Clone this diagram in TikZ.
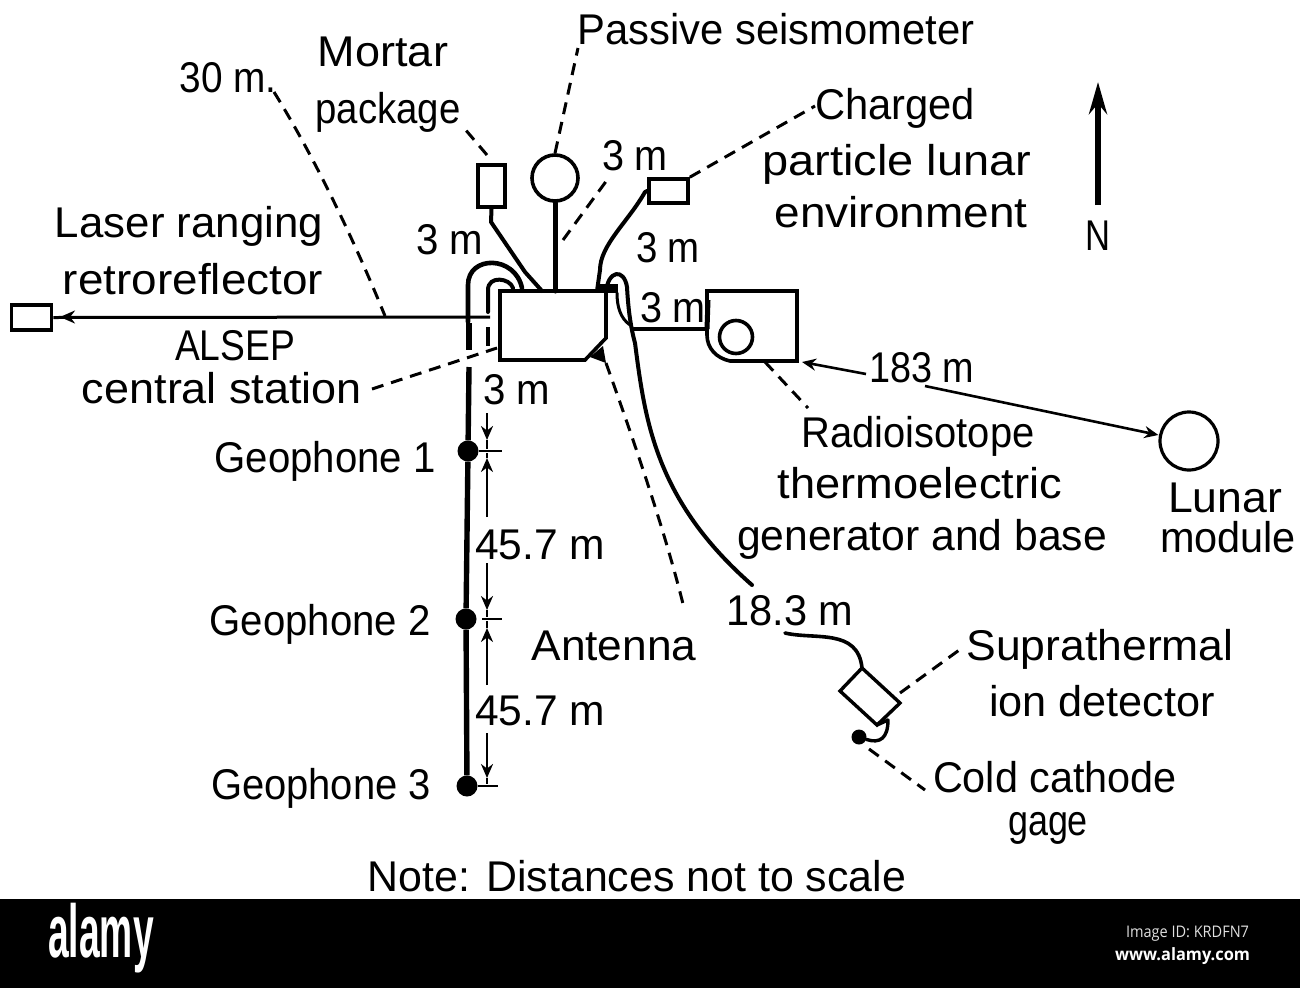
\documentclass[tikz,border=0pt]{standalone}
\usepackage{fontspec}
\usepackage{graphicx}
\setmainfont{Liberation Sans}
\newfontfamily\bandfont{Open Sans}
\usetikzlibrary{arrows.meta}
\newcommand\W[2]{\resizebox{#1pt}{\height}{#2}}
\tikzset{
  lbl/.style={inner sep=0pt,anchor=base,font=\fontsize{43}{46}\selectfont,text=black},
  cable/.style={draw=black,line width=4pt,line cap=round,line join=round},
  thincable/.style={draw=black,line width=3pt,line cap=round,line join=round},
  leader/.style={draw=black,line width=3pt,dash pattern=on 12pt off 8pt},
  dim/.style={draw=black,line width=2.6pt},
  box/.style={draw=black,line width=3.6pt,fill=white},
  dot/.style={circle,fill=black,inner sep=0pt,minimum size=21pt},
  tipd/.style={-{Stealth[length=14pt,width=12pt]}}
}
\begin{document}
\begin{tikzpicture}[x=1pt,y=-1pt]
\useasboundingbox (0,0) rectangle (1300,988);
% black band
\fill[black] (0,899) rectangle (1300,988);
\node[inner sep=0pt,text=white] (brand) at (101,938) {\scalebox{0.62}[1.25]{\fontsize{60}{60}\selectfont\bfseries alamy}};
\node[inner sep=0pt,text=white!88!black,anchor=base] (imgid) at (1187.5,937) {\resizebox{123pt}{\height}{\bandfont\fontsize{16}{20}\selectfont Image ID: KRDFN7}};
\node[inner sep=0pt,text=white,anchor=base] (www) at (1182.5,960) {\resizebox{135pt}{\height}{\bandfont\bfseries\fontsize{17}{22}\selectfont www.alamy.com}};

% equipment
\draw[box] (500,291) -- (606,291) -- (606,338) -- (585,360) -- (500,360) -- cycle;
\coordinate (csN) at (555,291);
\coordinate (csNW) at (542,291);
\coordinate (csNE) at (597,291);
\node[box,rectangle,minimum width=27pt,minimum height=42pt,inner sep=0pt] (mortar) at (491.5,186) {};
\node[box,circle,minimum size=46pt,inner sep=0pt] (seis) at (555,178) {};
\node[box,rectangle,minimum width=39pt,minimum height=24pt,inner sep=0pt] (cpl) at (668.5,191) {};
\draw[box] (707,291) -- (797,291) -- (797,361) -- (730,361) .. controls (716,358) and (707,348) .. (707,335) -- cycle;
\coordinate (rtgN) at (707,329);
\node[box,circle,minimum size=33pt,inner sep=0pt] (rtgc) at (736,337) {};
\node[draw=black,line width=3.8pt,rectangle,minimum width=40pt,minimum height=25pt,inner sep=0pt] (retro) at (31.5,317.5) {};
\node[draw=black,line width=3.2pt,circle,minimum size=58pt,inner sep=0pt] (lm) at (1189,441) {};

% cables to central station
\draw[cable] (mortar.south) -- (491,222) -- (525,272) -- (csNW);
\draw[cable,line width=5pt] (seis.south) -- (csN);
\draw[cable] (cpl.west) -- (645,192) .. controls (628,222) and (600,245) .. (600,270) -- (csNE);
% arches on the west
\coordinate (archA) at (468,322);
\coordinate (archB) at (488,312);
\draw[cable,line width=4.6pt] (archA) -- (468,285) .. controls (468,255) and (515,255) .. (522,288);
\draw[cable] (archB) -- (488,290) .. controls (488,275) and (510,278) .. (513,288);
% east loop and long cable
\coordinate (sideE) at (606,292);
\draw[cable] (sideE) .. controls (608,270) and (624,268) .. (627,287) .. controls (628,305) and (630,325) .. (635,343) .. controls (645,420) and (655,500) .. (752,585);
\draw[thincable] (617,293) .. controls (617,306) and (620,318) .. (630,325);
\fill[black] (596,293) rectangle (618,284);
% to RTG
\draw[cable] (634,329) -- (rtgN);
\draw[cable,line width=5pt,line cap=butt] (708,300) -- (rtgN);
% west line to retroreflector
\coordinate (westend) at (490,317);
\coordinate (rtip) at (60,317);
\draw[thincable,line cap=butt] (westend) -- (retro.east);
\draw[line width=3pt,-{Stealth[length=15pt,width=13pt]}] (75,317) -- (rtip);
% geophone line
\node[dot] (g1) at (468,451) {};
\node[dot] (g2) at (466,619) {};
\node[dot] (g3) at (467,786) {};
\coordinate (gtop) at (469,367);
\coordinate (gtopb) at (469,323);
\coordinate (gtopc) at (469,350);
\draw[cable,line width=5.4pt,line cap=butt] (gtopb) -- (gtopc);
\draw[cable,line width=5.4pt,line cap=butt] (gtop) -- (g1) -- (g2) -- (g3);
\coordinate (d0) at (488,327);
\coordinate (d1) at (488,346);
\draw[draw=black,line width=3.5pt] (d0) -- (d1);
% dimension marks
\coordinate (t1) at (502,451);
\coordinate (t2) at (502,619);
\coordinate (t3) at (498,786);
\draw[dim] (g1) -- (t1);
\draw[dim] (482,619) -- (t2);
\draw[dim] (g3) -- (t3);
\coordinate (a0) at (487,413);
\coordinate (a1) at (487,440);
\coordinate (a2) at (487,517);
\coordinate (a3) at (487,458);
\coordinate (a4) at (487,563);
\coordinate (a5) at (487,610);
\coordinate (a6) at (487,685);
\coordinate (a7) at (487,628);
\coordinate (a8) at (487,733);
\coordinate (a9) at (487,778);
\draw[dim,tipd] (a0) -- (a1);
\draw[dim,tipd] (a2) -- (a3);
\draw[dim,tipd] (a4) -- (a5);
\draw[dim,tipd] (a6) -- (a7);
\draw[dim,tipd] (a8) -- (a9);
\draw[dim] (a1) -- (487,449) (a3) -- (487,453) (a5) -- (487,617) (a7) -- (487,621) (a9) -- (487,784);

% antenna
\coordinate (antA) at (590,357);
\coordinate (antB) at (603,346);
\coordinate (antC) at (606,363);
\fill[black] (antA) -- (antB) -- (antC) -- cycle;

% LM link
\coordinate (rtgE) at (802,362);
\coordinate (l1) at (866,374);
\coordinate (l2) at (925,386);
\draw[dim,tipd] (l1) -- (rtgE);
\draw[dim,tipd] (l2) -- (lm.west |- 0,435);

% suprathermal ion detector
\draw[box,line width=3.4pt] (862,668) coordinate (sidN) -- (900,703) coordinate (sidE) -- (877,725) coordinate (sidS) -- (840,691) -- cycle;
\coordinate (cabEnd) at (785,633);
\draw[cable,line width=3.6pt] (cabEnd) .. controls (815,640) and (858,628) .. (sidN);
\node[circle,fill=black,inner sep=0pt,minimum size=15pt] (ccg) at (859,737) {};
\draw[cable,line width=3.4pt] (sidS) -- (888,720) .. controls (888,738) and (880,744) .. (ccg);

% north arrow
\coordinate (nb) at (1098,205);
\coordinate (nt) at (1098,82);
\draw[line width=5.5pt,-{Stealth[length=32pt,width=18pt]}] (nb) -- (nt);

% labels
\node[lbl] (t30) at (228,92) {\W{97}{30 m.}};
\node[lbl] (tmortar) at (383,66) {\W{130}{Mortar}};
\node[lbl] (tpack) at (388,123) {\W{145}{package}};
\node[lbl] (tpass) at (776,44) {\W{397}{Passive seismometer}};
\node[lbl] (m3a) at (635,170) {\W{66}{3 m}};
\node[lbl] (tchg) at (895,119) {\W{160}{Charged}};
\node[lbl] (tpart) at (897,175) {\W{269}{particle lunar}};
\node[lbl] (tenv) at (901,227) {\W{253}{environment}};
\node[lbl] (tn) at (1098,250) {\W{25}{N}};
\node[lbl] (tlaser) at (189,237) {\W{268}{Laser ranging}};
\node[lbl] (tretro) at (193,294) {\W{260}{retroreflector}};
\node[lbl] (m3b) at (450,254) {\W{67}{3 m}};
\node[lbl] (m3c) at (668,262) {\W{64}{3 m}};
\node[lbl] (m3d) at (673,322) {\W{66}{3 m}};
\node[lbl] (talsep) at (235,360) {\W{120}{ALSEP}};
\node[lbl] (tcentral) at (222,403) {\W{280}{central station}};
\node[lbl] (m3e) at (517,404) {\W{67}{3 m}};
\node[lbl] (tg1) at (325,472) {\W{221}{Geophone 1}};
\node[lbl] (tg2) at (320,635) {\W{221}{Geophone 2}};
\node[lbl] (tg3) at (321,799) {\W{220}{Geophone 3}};
\node[lbl] (m45a) at (540,559) {\W{130}{45.7 m}};
\node[lbl] (m45b) at (540,725) {\W{130}{45.7 m}};
\node[lbl] (tant) at (614,660) {\W{165}{Antenna}};
\node[lbl] (trad) at (918,447) {\W{233}{Radioisotope}};
\node[lbl] (ttherm) at (920,498) {\W{284}{thermoelectric}};
\node[lbl] (tgen) at (922,550) {\W{370}{generator and base}};
\node[lbl] (tlunar) at (1225,512) {\W{114}{Lunar}};
\node[lbl] (tmod) at (1228,552) {\W{136}{module}};
\node[lbl] (m183) at (922,382) {\W{105}{183 m}};
\node[lbl] (m18) at (790,625) {\W{127}{18.3 m}};
\node[lbl] (tsup) at (1100,660) {\W{267}{Suprathermal}};
\node[lbl] (tion) at (1102,716) {\W{226}{ion detector}};
\node[lbl] (tcold) at (1055,792) {\W{244}{Cold cathode}};
\node[lbl] (tgage) at (1048,835) {\W{80}{gage}};
\node[lbl] (tnote) at (637,891) {\W{538}{Note: Distances not to scale}};

% leaders
\draw[leader] (274,92) .. controls (310,150) and (350,230) .. (385,316);
\draw[leader] (487,155) -- (464,128);
\draw[leader] (seis.north) -- (578,48);
\draw[leader] (563,240) -- (610,176);
\draw[leader] (cpl.north east) -- (815,106);
\draw[leader] (372,389) -- (497,348);
\draw[leader] (antC) .. controls (630,430) and (665,530) .. (684,608);
\draw[leader] (765,362) -- (808,408);
\draw[leader] (sidE) ++(0,-10) -- (962,648);
\draw[leader] (ccg) ++(10,12) -- (925,790);
\end{tikzpicture}
\end{document}
